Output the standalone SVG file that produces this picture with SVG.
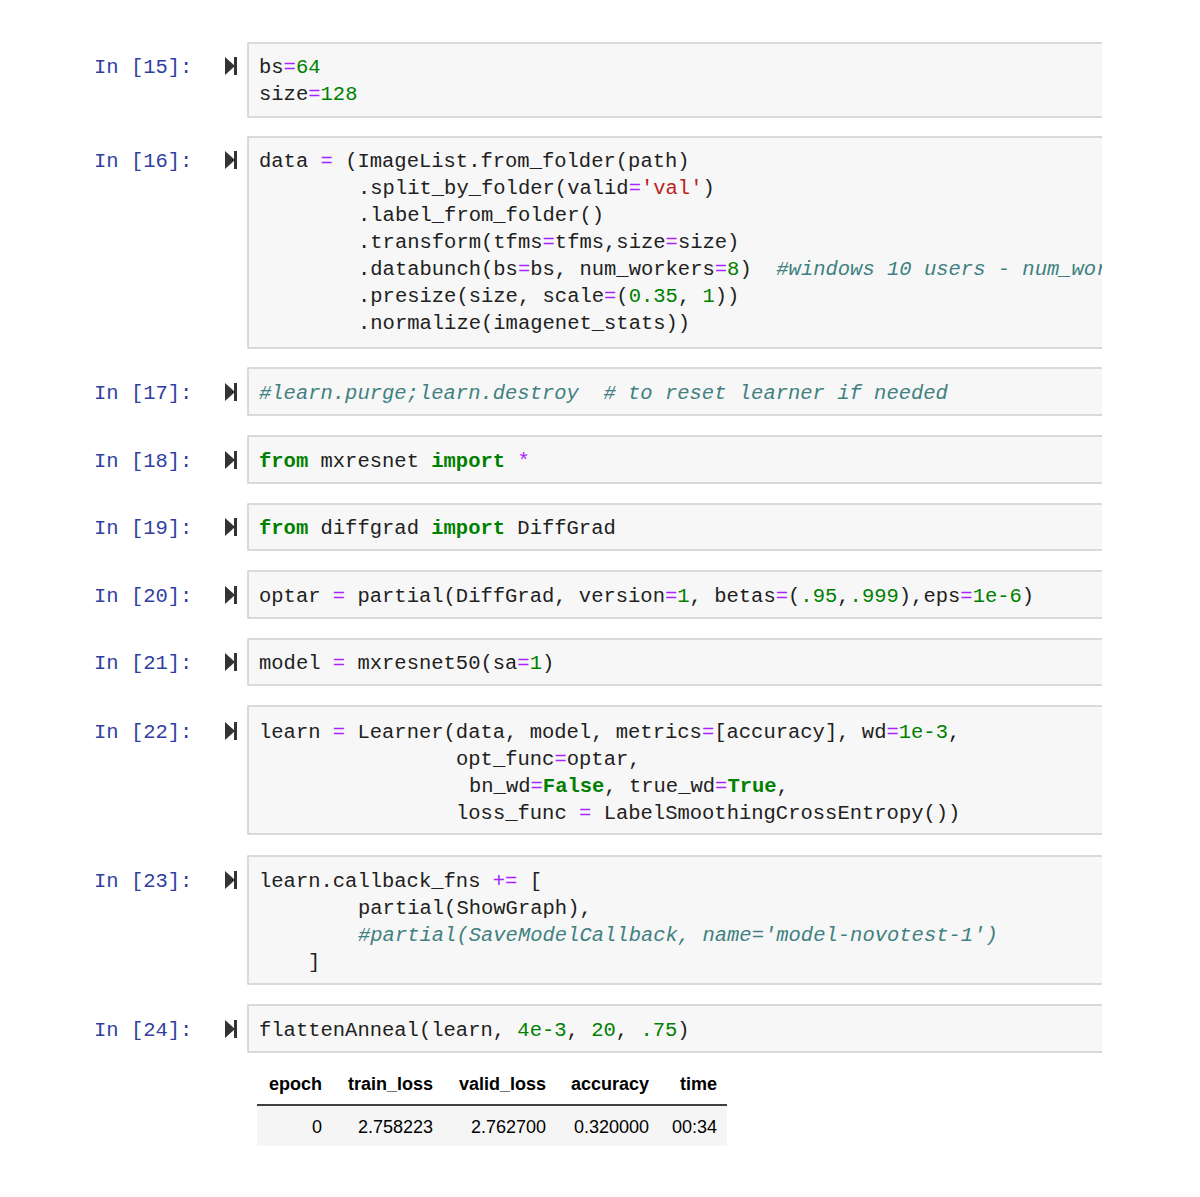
<svg xmlns="http://www.w3.org/2000/svg" width="1200" height="1197" viewBox="0 0 1200 1197">
<defs>
<style>
.box{fill:#f7f7f7;stroke:#cfcfcf;stroke-width:1.5}
.p{font-family:"Liberation Mono",monospace;font-size:20.5px;fill:#303f9f}
.t{font-family:"Liberation Mono",monospace;font-size:20.5px;fill:#212121;white-space:pre}
.k{fill:#008000;font-weight:bold}
.o{fill:#aa22ff}
.n{fill:#008000}
.s{fill:#ba2121}
.c{fill:#408080;font-style:italic}
.h{font-family:"Liberation Sans",Arial,sans-serif;font-size:18px;font-weight:bold;fill:#000;text-anchor:end}
.v{font-family:"Liberation Sans",Arial,sans-serif;font-size:18px;fill:#000;text-anchor:end}
</style>
<clipPath id="cl"><rect x="0" y="0" width="1102" height="1197"/></clipPath>
<g id="run"><polygon points="0,-9 10,0 0,9" fill="#333"/><rect x="9" y="-9" width="3" height="18" fill="#333"/></g>
</defs>
<rect width="1200" height="1197" fill="#fff"/>
<g clip-path="url(#cl)" xml:space="preserve">
<g id="c15"><rect class="box" x="248" y="43" width="870" height="74"/><text class="p" x="94" y="73">In [15]:</text><use href="#run" x="225" y="66"/>
<text class="t" x="259" y="73">bs<tspan class="o">=</tspan><tspan class="n">64</tspan></text>
<text class="t" x="259" y="100">size<tspan class="o">=</tspan><tspan class="n">128</tspan></text></g>
<g id="c16"><rect class="box" x="248" y="137" width="870" height="211"/><text class="p" x="94" y="167">In [16]:</text><use href="#run" x="225" y="160"/>
<text class="t" x="259" y="167">data <tspan class="o">=</tspan> (ImageList.from_folder(path)</text>
<text class="t" x="358" y="194">.split_by_folder(valid<tspan class="o">=</tspan><tspan class="s">'val'</tspan>)</text>
<text class="t" x="358" y="221">.label_from_folder()</text>
<text class="t" x="358" y="248">.transform(tfms<tspan class="o">=</tspan>tfms,size<tspan class="o">=</tspan>size)</text>
<text class="t" x="358" y="275">.databunch(bs<tspan class="o">=</tspan>bs, num_workers<tspan class="o">=</tspan><tspan class="n">8</tspan>)  <tspan class="c">#windows 10 users - num_workers=0</tspan></text>
<text class="t" x="358" y="302">.presize(size, scale<tspan class="o">=</tspan>(<tspan class="n">0.35</tspan>, <tspan class="n">1</tspan>))</text>
<text class="t" x="358" y="329">.normalize(imagenet_stats))</text></g>
<g id="c17"><rect class="box" x="248" y="368" width="870" height="47"/><text class="p" x="94" y="399">In [17]:</text><use href="#run" x="225" y="392"/>
<text class="t c" x="259" y="399">#learn.purge;learn.destroy  # to reset learner if needed</text></g>
<g id="c18"><rect class="box" x="248" y="436" width="870" height="47"/><text class="p" x="94" y="467">In [18]:</text><use href="#run" x="225" y="460"/>
<text class="t" x="259" y="467"><tspan class="k">from</tspan> mxresnet <tspan class="k">import</tspan> <tspan class="o">*</tspan></text></g>
<g id="c19"><rect class="box" x="248" y="504" width="870" height="46"/><text class="p" x="94" y="534">In [19]:</text><use href="#run" x="225" y="527"/>
<text class="t" x="259" y="534"><tspan class="k">from</tspan> diffgrad <tspan class="k">import</tspan> DiffGrad</text></g>
<g id="c20"><rect class="box" x="248" y="571" width="870" height="47"/><text class="p" x="94" y="602">In [20]:</text><use href="#run" x="225" y="595"/>
<text class="t" x="259" y="602">optar <tspan class="o">=</tspan> partial(DiffGrad, version<tspan class="o">=</tspan><tspan class="n">1</tspan>, betas<tspan class="o">=</tspan>(<tspan class="n">.95</tspan>,<tspan class="n">.999</tspan>),eps<tspan class="o">=</tspan><tspan class="n">1e-6</tspan>)</text></g>
<g id="c21"><rect class="box" x="248" y="639" width="870" height="46"/><text class="p" x="94" y="669">In [21]:</text><use href="#run" x="225" y="662"/>
<text class="t" x="259" y="669">model <tspan class="o">=</tspan> mxresnet50(sa<tspan class="o">=</tspan><tspan class="n">1</tspan>)</text></g>
<g id="c22"><rect class="box" x="248" y="706" width="870" height="128"/><text class="p" x="94" y="738">In [22]:</text><use href="#run" x="225" y="731"/>
<text class="t" x="259" y="738">learn <tspan class="o">=</tspan> Learner(data, model, metrics<tspan class="o">=</tspan>[accuracy], wd<tspan class="o">=</tspan><tspan class="n">1e-3</tspan>,</text>
<text class="t" x="456" y="765">opt_func<tspan class="o">=</tspan>optar,</text>
<text class="t" x="469" y="792">bn_wd<tspan class="o">=</tspan><tspan class="k">False</tspan>, true_wd<tspan class="o">=</tspan><tspan class="k">True</tspan>,</text>
<text class="t" x="456" y="819">loss_func <tspan class="o">=</tspan> LabelSmoothingCrossEntropy())</text></g>
<g id="c23"><rect class="box" x="248" y="856" width="870" height="128"/><text class="p" x="94" y="887">In [23]:</text><use href="#run" x="225" y="880"/>
<text class="t" x="259" y="887">learn.callback_fns <tspan class="o">+=</tspan> [</text>
<text class="t" x="358" y="914">partial(ShowGraph),</text>
<text class="t" x="358" y="941"><tspan class="c">#partial(SaveModelCallback, name='model-novotest-1')</tspan></text>
<text class="t" x="308" y="968">]</text></g>
<g id="c24"><rect class="box" x="248" y="1005" width="870" height="47"/><text class="p" x="94" y="1036">In [24]:</text><use href="#run" x="225" y="1029"/>
<text class="t" x="259" y="1036">flattenAnneal(learn, <tspan class="n">4e-3</tspan>, <tspan class="n">20</tspan>, <tspan class="n">.75</tspan>)</text></g>
</g>
<g id="table">
<text class="h" x="322" y="1090">epoch</text><text class="h" x="433" y="1090">train_loss</text><text class="h" x="546" y="1090">valid_loss</text><text class="h" x="649" y="1090">accuracy</text><text class="h" x="717" y="1090">time</text>
<rect x="257" y="1106" width="470" height="40" fill="#f5f5f5"/>
<line x1="257" y1="1105" x2="727" y2="1105" stroke="#000" stroke-width="1.5"/>
<text class="v" x="322" y="1133">0</text><text class="v" x="433" y="1133">2.758223</text><text class="v" x="546" y="1133">2.762700</text><text class="v" x="649" y="1133">0.320000</text><text class="v" x="717" y="1133">00:34</text>
</g>
</svg>
